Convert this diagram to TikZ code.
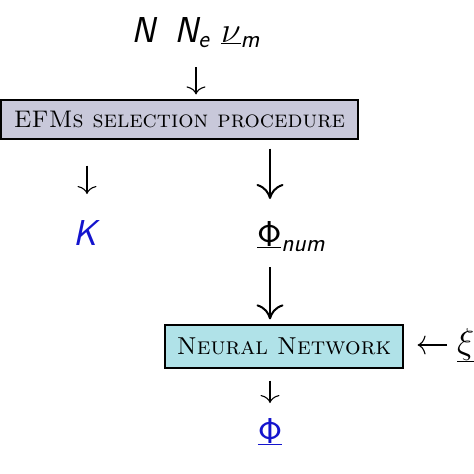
\RequirePackage{fix-cm}
\documentclass[tikz,border=0pt]{standalone}
\usetikzlibrary{arrows.meta}
\DeclareMathAlphabet{\mathsfit}{OT1}{cmss}{m}{sl}
\DeclareMathAlphabet{\mathsfup}{OT1}{cmss}{m}{n}
\definecolor{efmfill}{RGB}{200,200,218}
\definecolor{nnfill}{RGB}{176,226,232}
\definecolor{symblue}{RGB}{20,20,205}
\tikzset{
  lbl/.style={inner sep=0pt, outer sep=0pt},
  boxA/.style={draw, line width=1.2pt, fill=efmfill, inner sep=0pt, minimum width=357pt, minimum height=39pt,
    font=\fontsize{24}{28}\selectfont},
  boxB/.style={draw, line width=1.2pt, fill=nnfill, inner sep=0pt, minimum width=238pt, minimum height=43pt,
    font=\fontsize{24.5}{29}\selectfont},
  smallarr/.style={line width=1.1pt, -{To[length=8pt,width=19pt]}},
  bigarr/.style={line width=2pt, -{To[length=15pt,width=27pt]}},
  mathbig/.style={font=\fontsize{36}{42}\selectfont}
}
\begin{document}
\begin{tikzpicture}[x=1pt,y=-1pt]
\useasboundingbox (0,0) rectangle (474,474);
\node[lbl, mathbig, anchor=base] (inp) at (196,42) {$\mathsfit{N}\;\,\mathsfit{N}_{\mathsfit{e}}\;\underline{\nu}_{\mathsfit{m}}$};
\node[boxA] (efm) at (179.5,119.5) {\textsc{EFMs selection procedure}};
\node[lbl, mathbig, anchor=base, text=symblue] (K) at (87,245) {$\mathsfit{K}$};
\node[lbl, mathbig, anchor=base west] (phinum) at (257,246) {$\underline{\mathsfup{\Phi}}_{\mathsfit{num}}$};
\node[boxB] (nn) at (284,346.5) {\textsc{Neural Network}};
\node[lbl, mathbig, anchor=base west] (xi) at (457,353) {$\underline{\xi}$};
\node[lbl, mathbig, anchor=base, text=symblue] (phi) at (270,443) {$\underline{\mathsfup{\Phi}}$};
\draw[smallarr, shorten <=20pt, shorten >=5pt] (inp.south) -- (inp.south |- efm.north);
\draw[smallarr, shorten <=26pt, shorten >=26pt] (efm.south -| K.north) -- (K.north);
\draw[bigarr, shorten <=9pt, shorten >=22pt] (efm.south -| 270,0) -- (270,0 |- phinum.north);
\draw[bigarr, shorten <=16pt, shorten >=5pt] (270,0 |- phinum.south) -- (270,0 |- nn.north);
\draw[smallarr, shorten <=12pt, shorten >=15pt] (nn.south -| phi.north) -- (phi.north);
\draw[smallarr, shorten <=10pt, shorten >=14pt] (xi.west |- 0,345) -- (nn.east |- 0,345);
\end{tikzpicture}
\end{document}
